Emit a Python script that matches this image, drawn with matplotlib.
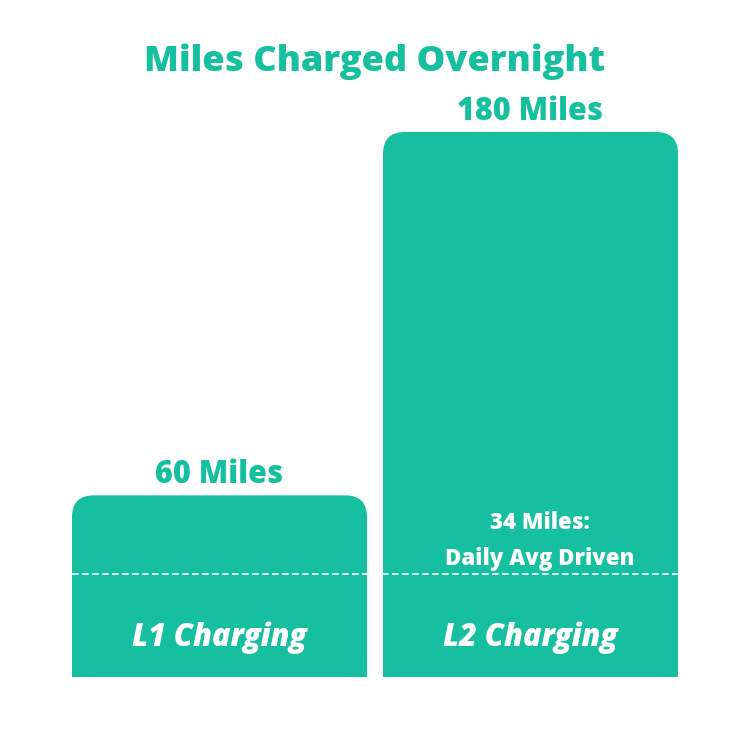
import matplotlib.pyplot as plt
from matplotlib.patches import FancyBboxPatch, Rectangle

# Data
categories = ['L1 Charging', 'L2 Charging']
miles = [60, 180]
value_labels = ['60 Miles', '180 Miles']
daily_avg = 34
daily_label = '34 Miles:\nDaily Avg Driven'
title = 'Miles Charged Overnight'

teal = '#15bf9f'
plt.rcParams['font.family'] = ['Open Sans', 'DejaVu Sans']

fig = plt.figure(figsize=(7.5, 7.5), dpi=100)
ax = fig.add_axes([0, 0, 1, 1])
ax.set_xlim(-0.7058, 1.7058)
ax.set_ylim(-24.1, 223.6)
ax.axis('off')

width = 0.9486
r = 0.07  # corner radius in x units
aspect = (1 / 3.028) / (1 / 311)

for i, (cat, m, lab) in enumerate(zip(categories, miles, value_labels)):
    x0 = i - width / 2
    ax.add_patch(FancyBboxPatch((x0, 0), width, m,
                                boxstyle=f'round,pad=0,rounding_size={r}',
                                mutation_aspect=aspect, fc=teal, ec='none'))
    # square off the bottom corners
    ax.add_patch(Rectangle((x0, 0), width, m / 2, fc=teal, ec='none'))
    ax.annotate(lab, (i, m), xytext=(0, 3), textcoords='offset points',
                ha='center', va='bottom', color=teal, fontsize=22, fontweight=800)
    ax.text(i, 13, cat, ha='center', va='center', color='white',
            fontsize=22, fontweight=800, style='italic')

# daily average line
ax.plot([-width / 2, 1 + width / 2], [daily_avg, daily_avg], color='white',
        lw=1.2, ls=(0, (4, 2)))
ax.text(1.03, daily_avg + 11, daily_label, ha='center', va='center',
        color='white', fontsize=16, fontweight=800, linespacing=1.65)

fig.text(0.5, 0.918, title, ha='center', va='center', color=teal,
         fontsize=26, fontweight=800)

fig.savefig('out.png', dpi=100)
